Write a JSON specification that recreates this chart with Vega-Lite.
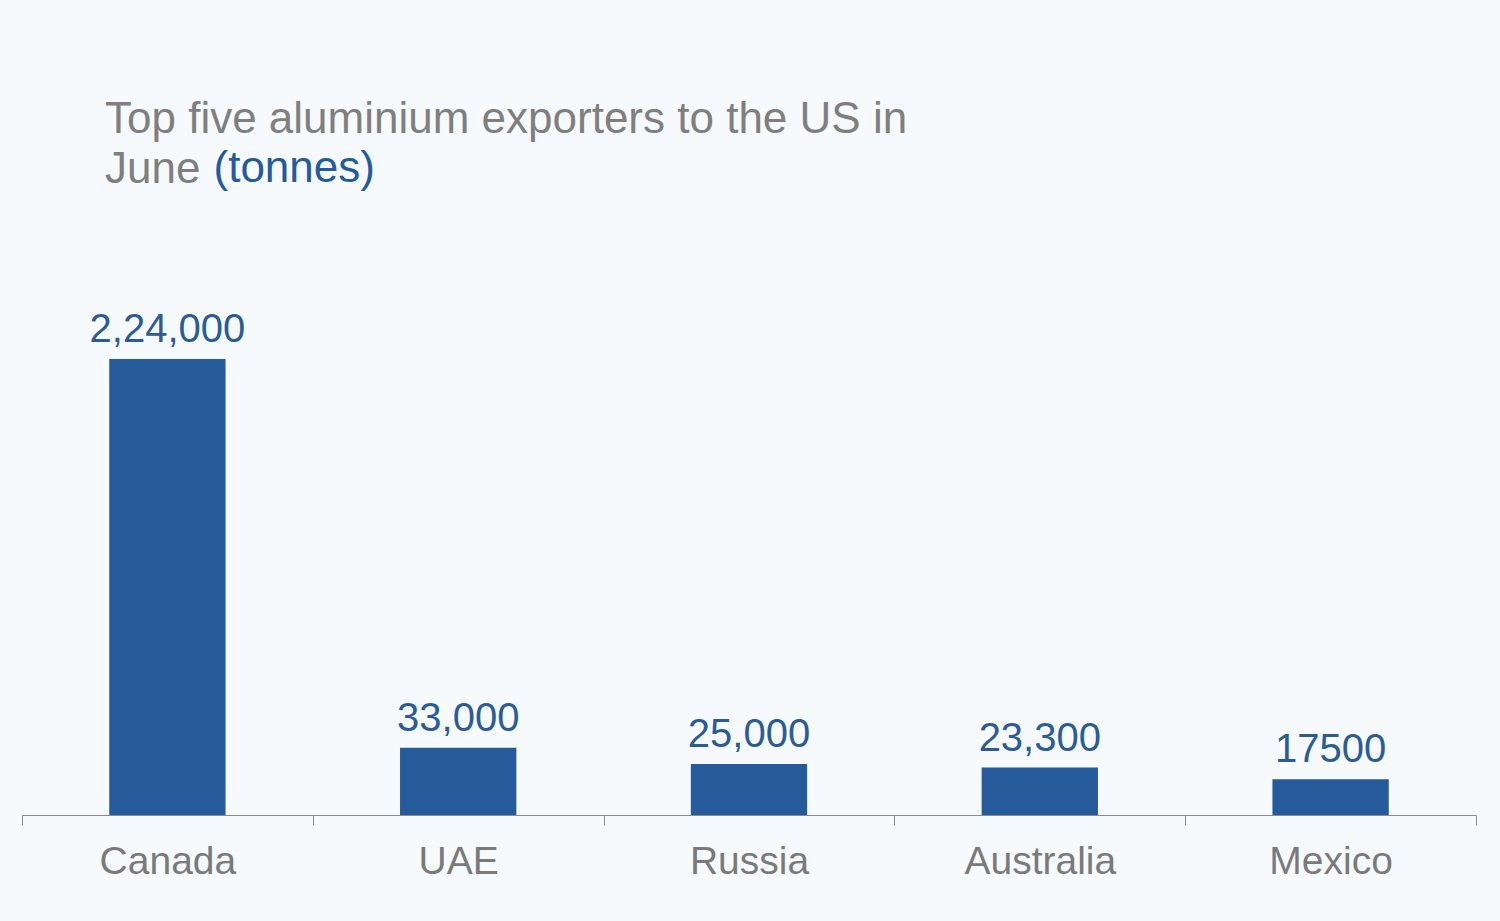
{
  "$schema": "https://vega.github.io/schema/vega-lite/v6.json",
  "autosize": {"type": "none"},
  "width": 1454,
  "height": 509,
  "padding": {"left": 22, "top": 306, "right": 24, "bottom": 106},
  "background": "#F6FAFD",
  "title": {
    "text": ["Top five aluminium exporters to the US in", "June"],
    "anchor": "start",
    "frame": "group",
    "dx": 83,
    "dy": 161,
    "offset": 115,
    "fontSize": 44,
    "lineHeight": 50,
    "fontWeight": "normal",
    "color": "#7F7F7F"
  },
  "data": {
    "values": [
      {"country": "Canada", "tonnes": 224000, "label": "2,24,000"},
      {"country": "UAE", "tonnes": 33000, "label": "33,000"},
      {"country": "Russia", "tonnes": 25000, "label": "25,000"},
      {"country": "Australia", "tonnes": 23300, "label": "23,300"},
      {"country": "Mexico", "tonnes": 17500, "label": "17500"}
    ]
  },
  "encoding": {
    "x": {
      "field": "country",
      "type": "nominal",
      "sort": null,
      "scale": {"paddingInner": 0, "paddingOuter": 0},
      "axis": {
        "title": null,
        "tickBand": "extent",
        "labelAngle": 0,
        "labelFontSize": 39,
        "labelColor": "#7A7A7A",
        "labelPadding": 17,
        "tickSize": 10,
        "tickColor": "#8C8C8C",
        "domainColor": "#8C8C8C"
      }
    },
    "y": {
      "field": "tonnes",
      "type": "quantitative",
      "scale": {"domain": [0, 250000], "nice": false},
      "axis": {
        "title": "(tonnes)",
        "titleColor": "#255B9A",
        "titleFontSize": 44,
        "titleFontWeight": "normal",
        "titleAngle": 0,
        "titleAlign": "left",
        "titleBaseline": "alphabetic",
        "titleX": 191,
        "titleY": -125,
        "labels": false,
        "ticks": false,
        "domain": false,
        "grid": false
      }
    }
  },
  "layer": [
    {
      "mark": {"type": "bar", "color": "#255B9A", "width": {"band": 0.4}}
    },
    {
      "mark": {
        "type": "text",
        "color": "#2B5C95",
        "fontSize": 40,
        "baseline": "alphabetic",
        "dy": -17
      },
      "encoding": {"text": {"field": "label"}}
    }
  ],
  "config": {
    "font": "Liberation Sans",
    "view": {"stroke": null}
  }
}
